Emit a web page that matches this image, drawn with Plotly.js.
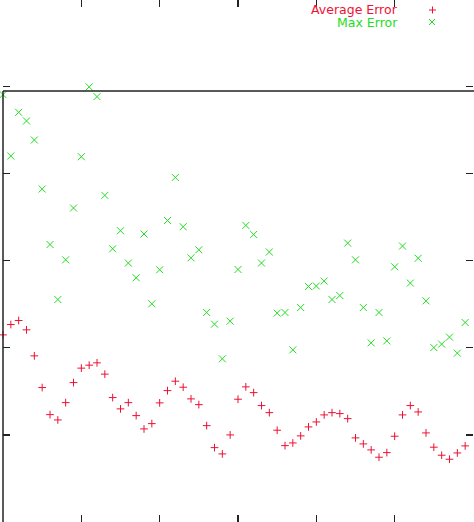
<!DOCTYPE html>
<html><head><meta charset="utf-8">
<script src="https://cdn.plot.ly/plotly-3.0.1.min.js"></script>
<style>html,body{margin:0;padding:0;overflow:hidden;background:#fff}</style>
</head><body><div id="chart" style="width:474px;height:522px"></div>
<script>
const iterations = [0,1,2,3,4,5,6,7,8,9,10,11,12,13,14,15,16,17,18,19,20,21,22,23,24,25,26,27,28,29,30,31,32,33,34,35,36,37,38,39,40,41,42,43,44,45,46,47,48,49,50,51,52,53,54,55,56,57,58,59];
const averageError = [2.149,2.268,2.314,2.207,1.908,1.544,1.233,1.172,1.371,1.601,1.767,1.801,1.828,1.698,1.429,1.299,1.371,1.222,1.069,1.130,1.368,1.509,1.617,1.548,1.414,1.348,1.107,0.854,0.782,1.000,1.410,1.552,1.486,1.337,1.256,1.054,0.877,0.908,0.989,1.092,1.149,1.230,1.256,1.245,1.187,0.966,0.897,0.828,0.744,0.797,0.985,1.230,1.337,1.264,1.023,0.859,0.767,0.721,0.793,0.874];
const maxError = [4.908,4.203,4.705,4.606,4.387,3.824,3.187,2.555,3.011,3.606,4.195,4.997,4.885,3.751,3.138,3.345,2.974,2.805,3.307,2.506,2.897,3.463,3.957,3.391,3.034,3.126,2.406,2.272,1.874,2.307,2.900,3.406,3.302,2.974,3.101,2.399,2.406,1.977,2.463,2.705,2.710,2.767,2.555,2.601,3.203,3.011,2.463,2.057,2.406,2.080,2.931,3.169,2.744,3.029,2.540,2.003,2.043,2.123,1.939,2.291];
const seriesNames = ['Average Error', 'Max Error'];
const seriesColors = ['#ee1133', '#22dd22'];
const frameTop = 4.95;

const W = 474, H = 522, ML = 3, MR = 1;
const PW = W - ML - MR;
function px(x){ return (x - ML) / PW; }
function py(y){ return 1 - y / H; }

const traces = [
  {x: iterations, y: averageError, name: seriesNames[0], type: 'scatter', mode: 'markers', cliponaxis: false,
   marker: {symbol: 'cross-thin', size: 5.5, color: seriesColors[0], line: {width: 1, color: seriesColors[0]}}},
  {x: iterations, y: maxError, name: seriesNames[1], type: 'scatter', mode: 'markers', cliponaxis: false,
   marker: {symbol: 'x-thin', size: 7, color: seriesColors[1], line: {width: 1, color: seriesColors[1]}}}
];

const tickColor = '#222';
const layout = {
  width: W, height: H,
  margin: {l: ML, r: MR, t: 0, b: 0, pad: 0},
  paper_bgcolor: '#fff', plot_bgcolor: '#fff',
  showlegend: false,
  xaxis: {range: [0, 60], dtick: 10, tick0: 0, ticks: 'inside', ticklen: 7, tickwidth: 1.2, tickcolor: tickColor,
          mirror: 'ticks', showline: false, showgrid: false, zeroline: false, showticklabels: false, fixedrange: true},
  yaxis: {range: [0, 5.995], dtick: 1, tick0: 0, ticks: 'inside', ticklen: 7, tickwidth: 1.2, tickcolor: tickColor,
          mirror: 'ticks', showline: false, showgrid: false, zeroline: false, showticklabels: false, fixedrange: true},
  shapes: [
    {type: 'line', xref: 'paper', yref: 'y', x0: 0, x1: 0, y0: -0.2, y1: frameTop, line: {color: tickColor, width: 1.5}},
    {type: 'line', xref: 'paper', yref: 'y', x0: 0, x1: 1.02, y0: frameTop, y1: frameTop, line: {color: tickColor, width: 1.5}},
    {type: 'path', xref: 'paper', yref: 'paper',
     path: 'M' + px(429) + ',' + py(10) + 'L' + px(436) + ',' + py(10) + 'M' + px(432.5) + ',' + py(6.5) + 'L' + px(432.5) + ',' + py(13.5),
     line: {color: seriesColors[0], width: 1}},
    {type: 'path', xref: 'paper', yref: 'paper',
     path: 'M' + px(429) + ',' + py(19) + 'L' + px(435) + ',' + py(25) + 'M' + px(429) + ',' + py(25) + 'L' + px(435) + ',' + py(19),
     line: {color: seriesColors[1], width: 1}}
  ],
  annotations: [
    {xref: 'paper', yref: 'paper', x: px(400), y: py(9.5), xanchor: 'right', yanchor: 'middle', showarrow: false,
     text: seriesNames[0], font: {family: 'DejaVu Sans', size: 12.5, color: seriesColors[0]}},
    {xref: 'paper', yref: 'paper', x: px(400), y: py(22.5), xanchor: 'right', yanchor: 'middle', showarrow: false,
     text: seriesNames[1], font: {family: 'DejaVu Sans', size: 12.5, color: seriesColors[1]}}
  ]
};

Plotly.newPlot('chart', traces, layout, {displayModeBar: false, staticPlot: true});
</script>
</body></html>
